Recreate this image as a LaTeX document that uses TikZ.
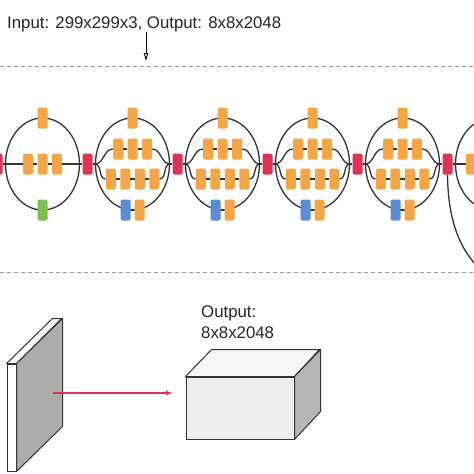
\documentclass[tikz,border=0pt]{standalone}
\usepackage{fontspec}
\setmainfont{Liberation Sans}
\usetikzlibrary{arrows.meta,shapes.geometric}
\definecolor{incorange}{RGB}{244,166,70}
\definecolor{incred}{RGB}{219,52,86}
\definecolor{incgreen}{RGB}{122,192,78}
\definecolor{incblue}{RGB}{92,140,214}
\definecolor{slab}{RGB}{172,172,172}
\definecolor{boxfront}{RGB}{238,238,238}
\definecolor{boxtop}{RGB}{246,246,246}
\definecolor{boxside}{RGB}{182,182,182}
\tikzstyle{blk} = [rectangle, rounded corners=2pt, minimum width=10pt, minimum height=21pt, inner sep=0pt]
\tikzstyle{wire} = [draw, line width=1.3pt, draw=black!80]
\tikzstyle{branchring} = [ellipse, draw=black!80, line width=1.3pt, minimum width=74pt, minimum height=92pt, inner sep=0pt]
\tikzstyle{divider} = [draw=black!40, line width=0.9pt, dash pattern=on 4pt off 3pt]
\tikzstyle{arrow} = [draw, line width=0.9pt, draw=black, -{Triangle[open, length=8pt, width=4.5pt]}]
\tikzstyle{redarrow} = [draw, line width=1.3pt, draw=incred, -{Latex[length=7pt, width=5pt]}]
\tikzstyle{facet} = [draw=black!80, line width=1pt, line join=round]

\begin{document}
\begin{tikzpicture}[x=1pt,y=-1pt,font=\fontsize{16.8}{21}\selectfont]
\useasboundingbox (0,0) rectangle (474,474);


%%% %%%
% HEADER
%%% %%%


\node[anchor=base west,inner sep=0pt,text=black!85] (INTXT) at (7,28) {Input: 299x299x3, Output: 8x8x2048};
\coordinate (ARW) at (146,61);
\draw [arrow] (INTXT.south -| ARW) -- (ARW);

\coordinate (SEPAW) at (0,66);
\coordinate (SEPAE) at (474,66);
\coordinate (SEPBW) at (0,272);
\coordinate (SEPBE) at (474,272);
\draw [divider] (SEPAW) -- (SEPAE);
\draw [divider] (SEPBW) -- (SEPBE);


%%% %%%
% Junctions
%%% %%%


\foreach \n in {0,...,5}
\node[blk,fill=incred] (RED\n) at ({-2.5+90*\n},164) {};


%%% %%%
% Module 1
%%% %%%


\node[branchring] (RING1) at (42.5,164) {};
\node[blk,fill=incorange] (TOP1) at (42.5,118) {};
\node[blk,fill=incgreen] (BOT1) at (42.5,210) {};

\foreach \n in {1,2,3}
\node[blk,fill=incorange] (MID1-\n) at ({42.5+14.5*(\n-2)},164) {};

\draw [wire] (RED0.east) -- (MID1-1.west);
\draw [wire] (MID1-1.east) -- (MID1-2.west);
\draw [wire] (MID1-2.east) -- (MID1-3.west);
\draw [wire] (MID1-3.east) -- (RED1.west);


%%% %%%
% Modules 2-5
%%% %%%


\foreach \k [evaluate=\k as \cx using 42.5+90*(\k-1), evaluate=\k as \p using int(\k-1)] in {2,...,5} {

\node[branchring] (RING\k) at (\cx,164) {};
\node[blk,fill=incorange] (TOP\k) at (\cx,118) {};

\foreach \n in {1,2,3}
\node[blk,fill=incorange] (ROWA\k-\n) at ({\cx+14.5*(\n-2)},149) {};

\foreach \n in {1,...,4}
\node[blk,fill=incorange] (ROWB\k-\n) at ({\cx+14.5*(\n-2.5)},179) {};

\node[blk,fill=incblue] (ROWC\k-1) at ({\cx-7},210) {};
\node[blk,fill=incorange] (ROWC\k-2) at ({\cx+7},210) {};

\draw [wire] (RED\p.east) -- (RING\k.west);
\draw [wire] (RING\k.west) to[out=0,in=180] (ROWA\k-1.west);
\draw [wire] (RING\k.west) to[out=0,in=180] (ROWB\k-1.west);

\draw [wire] (ROWA\k-1.east) -- (ROWA\k-2.west);
\draw [wire] (ROWA\k-2.east) -- (ROWA\k-3.west);
\draw [wire] (ROWB\k-1.east) -- (ROWB\k-2.west);
\draw [wire] (ROWB\k-2.east) -- (ROWB\k-3.west);
\draw [wire] (ROWB\k-3.east) -- (ROWB\k-4.west);
\draw [wire] (ROWC\k-1.east) -- (ROWC\k-2.west);

\draw [wire] (ROWA\k-3.east) to[out=0,in=180] (RING\k.east);
\draw [wire] (ROWB\k-4.east) to[out=0,in=180] (RING\k.east);
\draw [wire] (RING\k.east) -- (RED\k.west);
}


%%% %%%
% Module 6 (cut off)
%%% %%%


\node[branchring] (RING6) at (492.5,164) {};
\node[blk,fill=incorange] (MID6-1) at (471,164) {};

\draw [wire] (RED5.east) -- (RING6.west);
\draw [wire] (RING6.west) -- (MID6-1.west);

\coordinate (AUX) at (477,266);
\draw [wire] (RED5.south) .. controls (448,215) and (457,245) .. (AUX);


%%% %%%
% Output
%%% %%%


\node[facet,fill=white,minimum width=9pt,minimum height=107pt,inner sep=0pt] (PANEL) at (11.5,417.5) {};
\draw [facet,fill=white] (PANEL.north west) -- ++(46,-45) -- ++(9,0) -- (PANEL.north east) -- cycle;
\draw [facet,fill=slab] (PANEL.north east) -- ++(46,-45) -- ++(0,108) -- (PANEL.south east) -- cycle;

\node[facet,fill=boxfront,minimum width=108pt,minimum height=62pt,inner sep=0pt] (BOX) at (240,408) {};
\draw [facet,fill=boxtop] (BOX.north west) -- ++(26,-27) -- ++(108,0) -- (BOX.north east) -- cycle;
\draw [facet,fill=boxside] (BOX.north east) -- ++(26,-27) -- ++(0,62) -- (BOX.south east) -- cycle;

\coordinate (PANOUT) at (53,393);
\coordinate (BOXIN) at (173,393);
\draw [redarrow] (PANOUT) -- (BOXIN);

\node[anchor=base west,inner sep=0pt,text=black!85] (OUTA) at (201,317) {Output:};
\node[anchor=base west,inner sep=0pt,text=black!85] (OUTB) at (201,338) {8x8x2048};


\end{tikzpicture}
\end{document}
